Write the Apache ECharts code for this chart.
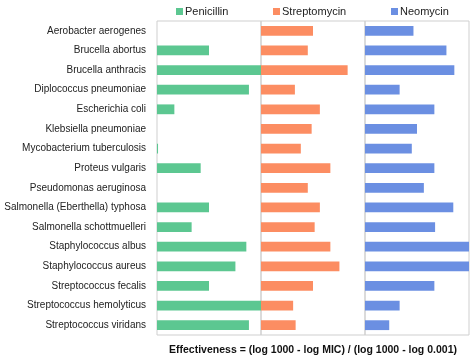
<!DOCTYPE html>
<html>
<head>
<meta charset="utf-8">
<script src="https://cdn.jsdelivr.net/npm/echarts@6/dist/echarts.min.js"></script>
<style>html,body{margin:0;padding:0;background:#fff;}#c{width:474px;height:361px;}</style>
</head>
<body>
<div id="c"></div>
<script>
const categories = [
  "Aerobacter aerogenes", "Brucella abortus", "Brucella anthracis", "Diplococcus pneumoniae",
  "Escherichia coli", "Klebsiella pneumoniae", "Mycobacterium tuberculosis", "Proteus vulgaris",
  "Pseudomonas aeruginosa", "Salmonella (Eberthella) typhosa", "Salmonella schottmuelleri",
  "Staphylococcus albus", "Staphylococcus aureus", "Streptococcus fecalis",
  "Streptococcus hemolyticus", "Streptococcus viridans"
];
const seriesNames = ["Penicillin", "Streptomycin", "Neomycin"];
const penicillin   = [0.000, 0.500, 1.000, 0.884, 0.167, 0.000, 0.010, 0.420, 0.000, 0.500, 0.333, 0.859, 0.754, 0.500, 1.000, 0.884];
const streptomycin = [0.500, 0.450, 0.833, 0.326, 0.566, 0.487, 0.383, 0.667, 0.450, 0.566, 0.516, 0.667, 0.754, 0.500, 0.309, 0.333];
const neomycin     = [0.466, 0.783, 0.859, 0.333, 0.667, 0.500, 0.450, 0.667, 0.566, 0.849, 0.674, 1.000, 1.000, 0.667, 0.333, 0.233];
const axisTitle = "Effectiveness = (log 1000 - log MIC) / (log 1000 - log 0.001)";

const colors = ["#5cc791", "#fc8d62", "#6b8fe2"];
const values = [penicillin, streptomycin, neomycin];
const panelLeft = [157, 261, 365];
const legendLeft = [176, 273, 391];

const chart = echarts.init(document.getElementById('c'), null, {renderer: 'canvas'});
const grids = [], xAxes = [], yAxes = [], series = [], legends = [];
for (let i = 0; i < 3; i++) {
  grids.push({left: panelLeft[i], width: 104, top: 21, height: 314, show: true,
    borderColor: '#cfcfcf', borderWidth: 1, backgroundColor: 'transparent', containLabel: false});
  xAxes.push({type: 'value', gridIndex: i, min: 0, max: 1,
    axisLine: {show: false}, axisTick: {show: false}, axisLabel: {show: false}, splitLine: {show: false},
    name: i === 1 ? axisTitle : '', nameLocation: 'middle', nameGap: 10,
    nameTextStyle: {fontFamily: 'Liberation Sans, Arial, sans-serif', fontSize: 10.5, fontWeight: 'bold', color: '#111'}});
  yAxes.push({type: 'category', gridIndex: i, data: categories, inverse: true,
    axisLine: {show: false}, axisTick: {show: false}, splitLine: {show: false},
    axisLabel: {show: i === 0, margin: 11, fontFamily: 'Liberation Sans, Arial, sans-serif', fontSize: 10, color: '#222'}});
  series.push({type: 'bar', name: seriesNames[i], xAxisIndex: i, yAxisIndex: i, data: values[i],
    barWidth: '50%', itemStyle: {color: colors[i]}, silent: true});
  legends.push({data: [seriesNames[i]], left: legendLeft[i], top: 6, padding: 0, icon: 'rect', itemWidth: 7, itemHeight: 7,
    itemGap: 0, selectedMode: false,
    textStyle: {fontFamily: 'Liberation Sans, Arial, sans-serif', fontSize: 11, color: '#222', padding: [0, 0, 0, -3]}});
}
chart.setOption({
  animation: false,
  backgroundColor: '#ffffff',
  grid: grids, xAxis: xAxes, yAxis: yAxes, series: series, legend: legends
});
</script>
</body>
</html>
